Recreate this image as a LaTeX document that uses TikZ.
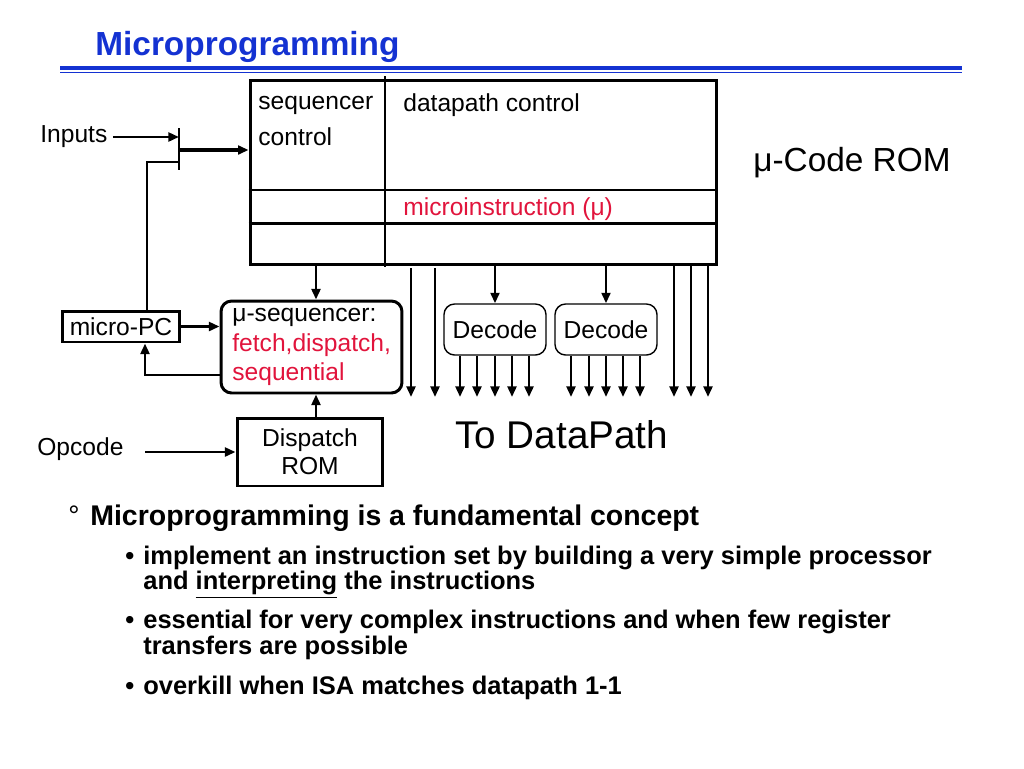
\documentclass[tikz,border=0pt]{standalone}
\usepackage{fontspec}
\setmainfont{Liberation Sans}
\usetikzlibrary{arrows.meta,positioning}
\definecolor{titleblue}{RGB}{20,50,210}
\definecolor{hired}{RGB}{225,20,60}
\newcommand\fsz[1]{\fontsize{#1}{1.15\dimexpr#1\relax}\selectfont}

\tikzset{
  box/.style={draw,line width=1.7pt,inner sep=0pt},
  rbox/.style={box,rounded corners=6pt},
  sig/.style={->,line width=1.5pt},
  lbl/.style={anchor=west,inner sep=0pt,font=\fsz{14pt}},
  bul/.style={anchor=base west,inner sep=0pt,font=\fsz{14.5pt}\bfseries},
}

\begin{document}
\begin{tikzpicture}[x=0.02cm,y=-0.02cm,>={Triangle[length=6pt,width=5pt]}]
  \useasboundingbox (0,0) rectangle (1024,768);
  % title
  \node[anchor=base west,inner sep=0pt,text=titleblue,font=\fsz{19pt}\bfseries] (title) at (95,55) {Microprogramming};
  \draw[titleblue,line width=2.5pt] (60,68) -- (962,68);
  \draw[titleblue,line width=0.6pt] (60,72.5) -- (962,72.5);

  % control store
  \node[box,minimum width=9.34cm,minimum height=3.7cm] (rom) at (483.5,172.5) {};
  \draw[line width=1.7pt] (385,76) -- (385,267);
  \draw[line width=1.7pt] (rom.west |- 0,190) -- (rom.east |- 0,190);
  \draw[line width=1.7pt] (rom.west |- 0,223) -- (rom.east |- 0,223);
  \node[lbl] (seqctl) at (258,105) {sequencer};
  \node[lbl] (seqctl2) at (258,137) {control};
  \node[lbl] (dpctl) at (403,105) {datapath control};
  \node[lbl,text=hired] (uinst) at (403,209) {microinstruction (μ)};
  \node[lbl,font=\fsz{19pt}] (ucode) at (753,163) {μ-Code ROM};

  % next address select
  \node[lbl] (inputs) at (40,137) {Inputs};
  \coordinate (muxtop) at (179,128);
  \coordinate (muxbot) at (179,170);
  \draw[line width=1.7pt] (muxtop) -- (muxbot);
  \draw[sig] ([xshift=3pt]inputs.east) -- (inputs.east -| muxtop);
  \draw[sig,line width=2.4pt] (179,150) -- (rom.west |- 0,150);

  \node[box,minimum width=2.36cm,minimum height=0.62cm,font=\fsz{14pt}] (upc) at (121,326.5) {micro-PC};
  \node[rbox,minimum width=3.62cm,minimum height=1.84cm] (useq) at (311.5,347) {};
  \node[lbl] (useqa) at (232,317) {μ-sequencer:};
  \node[lbl,text=hired] (useqb) at (232,345) {fetch,dispatch,};
  \node[lbl,text=hired] (useqc) at (232,374) {sequential};
  \node[box,minimum width=2.92cm,minimum height=1.36cm,align=center,font=\fsz{14pt}] (drom) at (310,452) {Dispatch\\ROM};
  \node[lbl] (opcode) at (37,449) {Opcode};

  \draw[line width=1.5pt] (upc.north -| 147,0) |- (179,162);
  \draw[sig] (upc.east) -- (useq.west |- upc.east);
  \draw[sig] (useq.west |- 0,375) -| (upc.south -| 145,0);
  \draw[sig] (rom.south -| 316,0) -- (useq.north -| 316,0);
  \draw[sig] (drom.north -| 316,0) -- (useq.south -| 316,0);
  \draw[sig] (145,452) -- (drom.west |- 0,452);

  % datapath side
  \node[rbox,line width=0.8pt,minimum width=2.04cm,minimum height=1.02cm,font=\fsz{14pt}] (dec1) at (495,329.5) {Decode};
  \node[rbox,line width=0.8pt,minimum width=2.04cm,minimum height=1.02cm,font=\fsz{14pt}] (dec2) at (606,329.5) {Decode};
  \draw[sig] (rom.south -| dec1.north) -- (dec1.north);
  \draw[sig] (rom.south -| dec2.north) -- (dec2.north);
  \foreach \x in {460,477,495,512,529}
    \draw[sig] (dec1.south -| \x,0) -- (\x,397);
  \foreach \x in {571,589,606,623,640}
    \draw[sig] (dec2.south -| \x,0) -- (\x,397);
  \foreach \x in {411,435}
    \draw[sig] (\x,268) -- (\x,397);
  \foreach \x in {674,691,708}
    \draw[sig] (rom.south -| \x,0) -- (\x,397);
  \node[lbl,font=\fsz{22pt}] (todp) at (455,435) {To DataPath};

  % bullets
  \node[anchor=base west,inner sep=0pt,font=\fsz{16pt}] (deg) at (68,525) {°};
  \node[bul,font=\fsz{16.2pt}\bfseries] (b0) at (90,525) {Microprogramming is a fundamental concept};
  \node[bul] (d1) at (125,564) {•};
  \node[bul] (b1) at (143,564) {implement an instruction set by building a very simple processor};
  \node[bul] (b1b) at (143,589) {and \underline{interpreting} the instructions};
  \node[bul] (d2) at (125,628) {•};
  \node[bul] (b2) at (143,628) {essential for very complex instructions and when few register};
  \node[bul] (b2b) at (143,654) {transfers are possible};
  \node[bul] (d3) at (125,694) {•};
  \node[bul] (b3) at (143,694) {overkill when ISA matches datapath 1-1};
\end{tikzpicture}
\end{document}
